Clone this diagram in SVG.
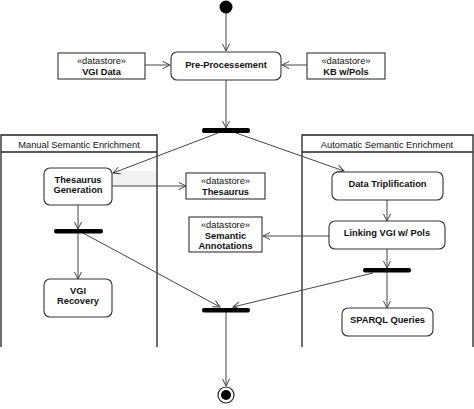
<svg xmlns="http://www.w3.org/2000/svg" width="474" height="409" viewBox="0 0 474 409">
<style>
text{font-family:"Liberation Sans",Arial,sans-serif;font-size:9.3px;fill:#111;text-anchor:middle}
.b{font-weight:bold}
.act{fill:#fff;stroke:#333;stroke-width:1.1}
.ds{fill:#fff;stroke:#333;stroke-width:1.1}
.lane{fill:none;stroke:#222;stroke-width:1.3}
.bar{fill:#000}
.c{fill:none;stroke:#444;stroke-width:1}
</style>
<defs>
<marker id="ah" viewBox="-1 -1 9 9" refX="7" refY="3.5" markerWidth="9" markerHeight="9" markerUnits="userSpaceOnUse" orient="auto">
<path d="M0,0 L7,3.5 L0,7" fill="none" stroke="#444" stroke-width="1"/>
</marker>
</defs>
<rect x="112" y="171" width="45" height="15" fill="#f2f2f2"/>
<g id="lane-manual">
<path class="lane" d="M1,347 V135 H157 V347"/>
<line class="lane" x1="1" y1="152" x2="157" y2="152"/>
<text x="79" y="148">Manual Semantic Enrichment</text>
</g>
<g id="lane-auto">
<path class="lane" d="M302,347 V135 H473 V347"/>
<line class="lane" x1="302" y1="152" x2="473" y2="152"/>
<text x="387" y="148">Automatic Semantic Enrichment</text>
</g>
<g id="connectors">
<line class="c" x1="226" y1="13" x2="226" y2="51" marker-end="url(#ah)"/>
<line class="c" x1="145" y1="65" x2="170" y2="65" marker-end="url(#ah)"/>
<line class="c" x1="307" y1="65" x2="282" y2="65" marker-end="url(#ah)"/>
<line class="c" x1="226" y1="80" x2="226" y2="128" marker-end="url(#ah)"/>
<line class="c" x1="218" y1="133" x2="113" y2="173" marker-end="url(#ah)"/>
<line class="c" x1="236" y1="133" x2="344" y2="171" marker-end="url(#ah)"/>
<line class="c" x1="112" y1="186" x2="186" y2="186" marker-end="url(#ah)"/>
<line class="c" x1="78" y1="205" x2="78" y2="229" marker-end="url(#ah)"/>
<line class="c" x1="78" y1="233" x2="78" y2="279" marker-end="url(#ah)"/>
<line class="c" x1="83" y1="233" x2="220" y2="307" marker-end="url(#ah)"/>
<line class="c" x1="387" y1="200" x2="387" y2="221" marker-end="url(#ah)"/>
<line class="c" x1="329" y1="236" x2="263" y2="236" marker-end="url(#ah)"/>
<line class="c" x1="387" y1="249" x2="387" y2="268" marker-end="url(#ah)"/>
<line class="c" x1="387" y1="272" x2="387" y2="308" marker-end="url(#ah)"/>
<line class="c" x1="373" y1="273" x2="233" y2="307" marker-end="url(#ah)"/>
<line class="c" x1="226" y1="312" x2="226" y2="386" marker-end="url(#ah)"/>
</g>
<g id="start"><circle cx="226" cy="7" r="6.5" fill="#000"/></g>
<g id="pre-processement">
<rect class="act" x="171" y="52" width="110" height="28" rx="6"/>
<text class="b" x="226" y="68">Pre-Processement</text>
</g>
<g id="vgi-data">
<rect class="ds" x="58" y="53" width="87" height="26"/>
<text x="101.5" y="64">«datastore»</text>
<text class="b" x="101.5" y="75">VGI Data</text>
</g>
<g id="kb-pols">
<rect class="ds" x="307" y="53" width="78" height="26"/>
<text x="346" y="64">«datastore»</text>
<text class="b" x="346" y="75">KB w/Pols</text>
</g>
<g id="fork1"><rect class="bar" x="202" y="128" width="48" height="5" rx="2"/></g>
<g id="thesaurus-generation">
<rect class="act" x="44" y="168" width="68" height="37" rx="6"/>
<text class="b" x="78" y="183">Thesaurus</text>
<text class="b" x="78" y="193">Generation</text>
</g>
<g id="thesaurus">
<rect class="ds" x="186" y="173" width="79" height="26"/>
<text x="225.5" y="184">«datastore»</text>
<text class="b" x="225.5" y="195">Thesaurus</text>
</g>
<g id="semantic-annotations">
<rect class="ds" x="189" y="217" width="73" height="35"/>
<text x="225.5" y="228">«datastore»</text>
<text class="b" x="225.5" y="239">Semantic</text>
<text class="b" x="225.5" y="249">Annotations</text>
</g>
<g id="fork-left"><rect class="bar" x="54" y="229" width="49" height="4.5" rx="2"/></g>
<g id="vgi-recovery">
<rect class="act" x="44" y="279" width="68" height="38" rx="6"/>
<text class="b" x="78" y="294">VGI</text>
<text class="b" x="78" y="304">Recovery</text>
</g>
<g id="data-triplification">
<rect class="act" x="332" y="172" width="111" height="28" rx="6"/>
<text class="b" x="387.5" y="186.5">Data Triplification</text>
</g>
<g id="linking-vgi">
<rect class="act" x="329" y="221" width="116" height="28" rx="6"/>
<text class="b" x="387" y="235.5">Linking VGI w/ Pols</text>
</g>
<g id="fork-right"><rect class="bar" x="363" y="268" width="48" height="4.5" rx="2"/></g>
<g id="sparql-queries">
<rect class="act" x="342" y="308" width="91" height="28" rx="6"/>
<text class="b" x="387.5" y="322.5">SPARQL Queries</text>
</g>
<g id="join"><rect class="bar" x="202" y="308" width="48" height="4.5" rx="2"/></g>
<g id="final">
<circle cx="226" cy="395" r="8" fill="#fff" stroke="#222" stroke-width="1.2"/>
<circle cx="226" cy="395" r="5" fill="#000"/>
</g>
</svg>
